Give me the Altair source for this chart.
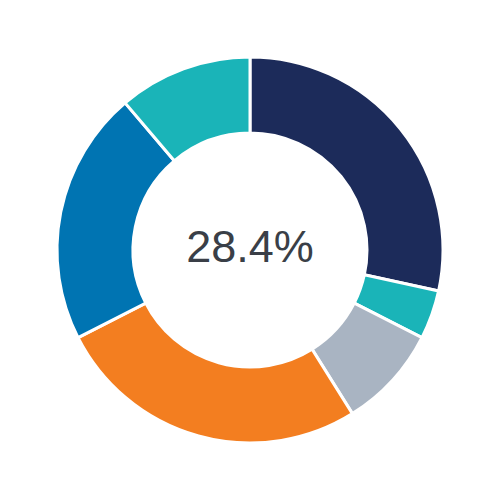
import pandas as pd
import altair as alt

# slices clockwise from 12 o'clock
segments = ["A", "B", "C", "D", "E", "F"]
shares = [28.4, 4.1, 8.6, 26.4, 21.3, 11.2]
colors = ["#1c2b5a", "#1ab4b8", "#a9b4c2", "#f37e20", "#0074b2", "#1ab4b8"]
center_label = "28.4%"

df = pd.DataFrame({"segment": segments, "share": shares, "pos": range(len(segments))})

size = 484

donut = (
    alt.Chart(df)
    .mark_arc(outerRadius=193, innerRadius=117, stroke="white", strokeWidth=3)
    .encode(
        theta=alt.Theta("share:Q", stack=True),
        order=alt.Order("pos:Q"),
        color=alt.Color("segment:N", scale=alt.Scale(domain=segments, range=colors), legend=None),
    )
)

label = (
    alt.Chart(pd.DataFrame({"txt": [center_label]}))
    .mark_text(font="Liberation Sans", fontSize=45, color="#3a3f47", baseline="middle", align="center")
    .encode(text="txt:N", x=alt.value(size / 2), y=alt.value(size / 2 - 2))
)

chart = (
    (donut + label)
    .properties(width=size, height=size, padding=0)
    .configure_view(stroke=None)
)

chart.save("out.html", embed_options={"renderer": "svg", "actions": False})
